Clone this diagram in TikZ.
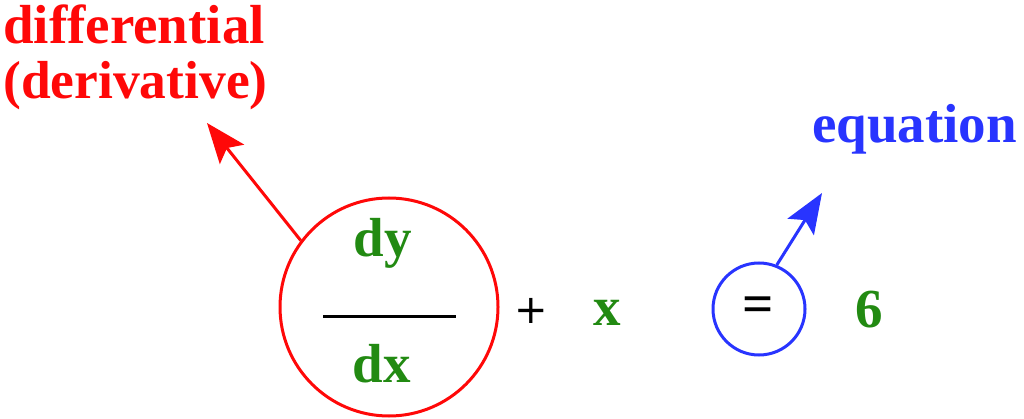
\documentclass[tikz,border=0pt]{standalone}
\usepackage{fontspec}
\setmainfont{Liberation Serif}
\newfontfamily\plusfont{DejaVu Sans}
\usetikzlibrary{arrows.meta}
\definecolor{rred}{RGB}{255,8,8}
\definecolor{ggreen}{RGB}{34,138,18}
\definecolor{bblue}{RGB}{40,52,255}
\tikzset{
  big/.style={font=\fontsize{55}{56}\selectfont\bfseries, inner sep=0pt},
  lbl/.style={big, anchor=base west},
  term/.style={big, anchor=base, text=ggreen},
  op/.style={inner sep=0pt, anchor=base},
  ring/.style={circle, draw, line width=3pt, inner sep=0pt},
  pointer/.style={line width=3pt, -{Stealth[length=40pt, width=31pt, inset=8pt]}}
}
\begin{document}
\begin{tikzpicture}[x=1pt, y=-1pt]
\useasboundingbox (0,0) rectangle (1024,419);
% labels
\node[lbl, text=rred] (diff) at (3,44) {differential};
\node[lbl, text=rred, font=\fontsize{53.5}{56}\selectfont\bfseries] (deriv) at (3,99) {(derivative)};
\node[lbl, text=bblue] (eqn) at (812,143) {equation};
% fraction
\node[ring, draw=rred, minimum size=218pt] (rc) at (389,307) {};
\node[term] (dy) at (382.5,257) {dy};
\node[term] (dx) at (382,382) {dx};
\coordinate (barl) at (323,316);
\coordinate (barr) at (456,316);
\draw[line width=3pt] (barl) -- (barr);
% rest of equation
\node[op, font=\fontsize{40}{42}\selectfont\plusfont] (plus) at (531,323) {+};
\node[term] (x) at (607.5,325) {x};
\node[ring, draw=bblue, minimum size=92pt] (bc) at (759,309) {};
\node[op, font=\fontsize{55}{56}\selectfont\bfseries] (eq) at (758.5,322) {=};
\node[term] (six) at (869.5,327) {6};
% pointers
\coordinate (redtip) at (207,123);
\coordinate (bluetip) at (822,193);
\draw[pointer, rred] (rc.143) -- (redtip);
\draw[pointer, bblue] (bc.68) -- (bluetip);
\end{tikzpicture}
\end{document}
